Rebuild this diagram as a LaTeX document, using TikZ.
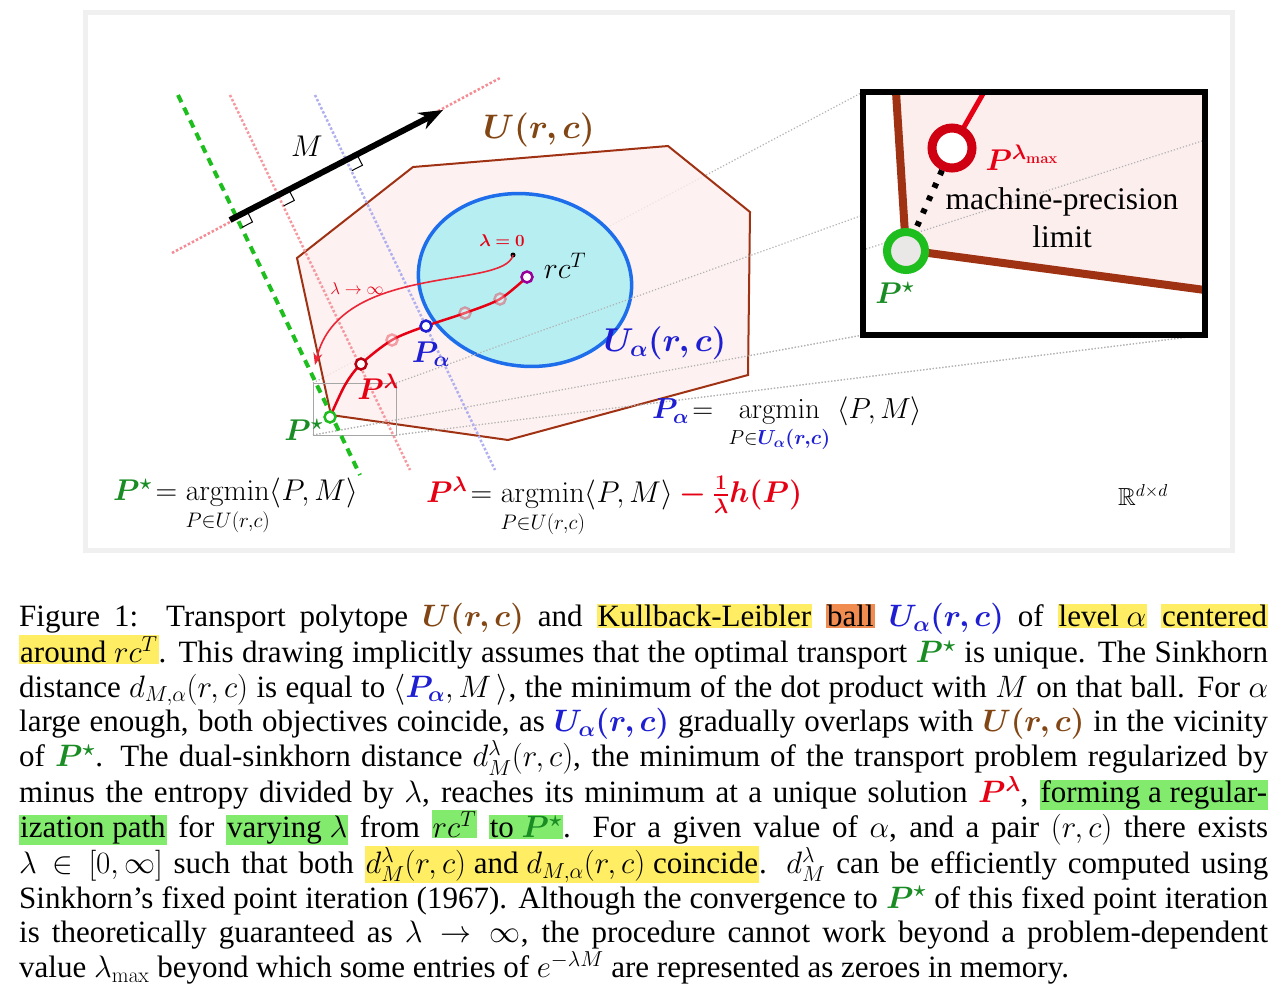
\RequirePackage{fix-cm}
\documentclass[tikz,border=0pt]{standalone}
\usepackage{graphicx}
\usepackage{amsmath,amssymb,bm}
\usepackage[no-math]{fontspec}
\setmainfont{Liberation Serif}
\usetikzlibrary{calc,arrows.meta}
\definecolor{ubrown}{RGB}{160,50,20}
\definecolor{lbrown}{RGB}{130,70,20}
\definecolor{pblue}{RGB}{30,30,210}
\definecolor{pgreen}{RGB}{25,140,35}
\definecolor{cgreen}{RGB}{30,190,30}
\definecolor{pred}{RGB}{230,0,20}
\definecolor{ppink}{RGB}{253,238,238}
\definecolor{cyanfill}{RGB}{182,238,242}
\definecolor{ellblue}{RGB}{30,110,235}
\definecolor{hly}{RGB}{255,238,100}
\definecolor{hlg}{RGB}{130,235,110}
\definecolor{hlo}{RGB}{240,140,80}
\newcommand\hy[1]{{\fboxsep=1pt\colorbox{hly}{#1}}}
\newcommand\hg[1]{{\fboxsep=1pt\colorbox{hlg}{#1}}}
\newcommand\ho[1]{{\fboxsep=1pt\colorbox{hlo}{#1}}}
\newcommand\amin{\mathop{\mathrm{argmin}}\limits}
\tikzset{
  lab/.style={inner sep=0pt},
  perpline/.style={dotted,line width=2.5pt},
  ring/.style={circle,draw,fill=white,inner sep=0pt,minimum size=11pt,line width=2.5pt},
  faded/.style={ring,draw=pred,opacity=0.35},
  guide/.style={gray!60,dotted,line width=1.2pt},
}
\begin{document}
\begin{tikzpicture}[x=1pt,y=-1pt]
\useasboundingbox (0,0) rectangle (1287,1005);
\fill[white] (0,0) rectangle (1287,1005);
\draw[gray!12,line width=5pt] (85,12) rectangle (1232,550);
% guides to inset
\draw[guide] (313,383) -- (863,92);
\draw[guide] (313,435) -- (863,335);
\draw[guide] (396,435) -- (1205,335);
% polytope
\filldraw[fill=ppink,fill opacity=0.8,draw=ubrown,line width=2pt]
 (297,258) -- (413,167) -- (668,146) -- (750,212) -- (748,375) -- (508,440) -- (331,415) -- cycle;
\draw[guide] (313,435) -- (863,335);
\draw[guide] (396,435) -- (1205,335);
% ellipse
\filldraw[fill=cyanfill,draw=ellblue,line width=3.5pt,rotate around={-8:(525,280)}] (525,280) ellipse [x radius=107,y radius=86];
\draw[guide] (396,383) -- (1205,92);
% small box
\draw[gray!70,line width=1pt] (313,383) rectangle (396,435);
% M line
\coordinate (Ma) at (172,253); \coordinate (Mb) at (500,78);
\draw[pred!45,dotted,line width=2.5pt] (Ma) -- (Mb);
\coordinate (ga) at (178,95); \coordinate (gb) at (360,475);
\coordinate (ra) at (230,95); \coordinate (rb) at (410,470);
\coordinate (ba) at (315,95); \coordinate (bb) at (495,470);
\draw[cgreen,dashed,dash pattern=on 8pt off 6pt,line width=4pt] (ga) -- (gb);
\draw[perpline,pred!40] (ra) -- (rb);
\draw[perpline,pblue!35] (ba) -- (bb);
\coordinate (Ms) at (230,220); \coordinate (Me) at (443,110);
\draw[line width=6pt,-{Stealth[length=24pt,width=18pt]}] (Ms) -- (Me);
\node[lab,font=\fontsize{30}{30}\selectfont] (Mlab) at (307,146) {$M$};
\foreach \a/\b in {ga/gb,ra/rb,ba/bb}{
  \coordinate (X) at (intersection of Ms--Me and \a--\b);
  \draw[line width=1pt] ($(X)+(10.7,-5.5)$) -- ++(5.5,10.7) -- ++(-10.7,5.5);
}
% lambda -> infinity curve
\coordinate (l0) at (513,255);
\coordinate (linf) at (315,365);
\fill (l0) circle (2.5pt);
\draw[pred!85,line width=1.6pt,-{Stealth[length=12pt,width=9pt]}] (l0) .. controls (505,290) and (340,262) .. (linf);
\node[lab,pred,font=\fontsize{17}{17}\selectfont] (lz) at (502,241) {$\bm{\lambda=0}$};
\node[lab,pred,font=\fontsize{17}{17}\selectfont] (li) at (357,289) {$\lambda\rightarrow\infty$};
% path
\draw[pred,line width=2.5pt] plot[smooth] coordinates {(330,417) (345,385) (361,364) (392,340) (426,326) (465,313) (500,299) (527,277)};
\node[faded] (f1) at (392,340) {};
\node[faded] (f2) at (465,313) {};
\node[faded] (f3) at (500,299) {};
\node[ring,draw=pred!80!black] (Pl) at (361,364) {};
\node[ring,draw=pblue] (Pa) at (426,326) {};
\node[ring,draw=violet!80!magenta] (rc) at (527,277) {};
\node[ring,draw=cgreen] (Ps) at (330,417) {};
% labels
\node[lab,font=\fontsize{30}{30}\selectfont] (rclab) at (565,266) {$rc^T$};
\node[lab,pblue,font=\fontsize{30}{30}\selectfont] (Palab) at (431,354) {$\bm{P_{\alpha}}$};
\node[lab,pred,font=\fontsize{30}{30}\selectfont] (Pllab) at (378,387) {$\bm{P^{\lambda}}$};
\node[lab,pgreen,font=\fontsize{30}{30}\selectfont] (Pslab) at (304,430) {$\bm{P^{\star}}$};
\node[lab,lbrown,font=\fontsize{34}{34}\selectfont] (Ulab) at (539,130) {$\bm{U(r,c)}$};
\node[lab,pblue,font=\fontsize{33}{33}\selectfont] (Ualab) at (665,343) {$\bm{U_{\alpha}(r,c)}$};
% formulas
\node[lab,anchor=north west,font=\fontsize{29}{29}\selectfont] (fa) at (652,397)
 {$\color{pblue}\bm{P_{\alpha}}\!\color{black}=\ \amin_{P\in \color{pblue}\bm{U_\alpha(r,c)}}\ \langle P,M\rangle$};
\node[lab,anchor=north west,font=\fontsize{30}{30}\selectfont] (fs) at (113,478)
 {$\color{pgreen}\bm{P^{\star}}\!\color{black}=\amin_{P\in U(r,c)}\langle P,M\rangle$};
\node[lab,anchor=north west,font=\fontsize{30}{30}\selectfont] (fl) at (426,476)
 {$\color{pred}\bm{P^{\lambda}}\!\color{black}=\amin_{P\in U(r,c)}\langle P,M\rangle\color{pred}\bm{-\tfrac{1}{\lambda}h(P)}$};
\node[lab,font=\fontsize{17}{17}\selectfont] (R) at (1143,495) {\scalebox{1.45}{$\mathbb{R}^{d\times d}$}};
% inset
\fill[white] (863,92) rectangle (1205,335);
\fill[ppink] (896,92) -- (1205,92) -- (1205,290) -- (906,250) -- cycle;
\draw[guide] (863,250) -- (1205,140);
\draw[ubrown,line width=8pt] (896,92) -- (906,250) -- (1205,290);
\coordinate (Pm) at (952,148);
\coordinate (Pt) at (984,92);
\draw[pred,line width=5pt] (Pt) -- (Pm);
\node[circle,draw=pred!90!black,fill=white,line width=9pt,minimum size=40pt,inner sep=0pt] (Pmax) at (Pm) {};
\node[circle,draw=cgreen,fill=ppink!60!gray!40,line width=8pt,minimum size=38pt,inner sep=0pt] (Pstar2) at (906,251) {};
\draw[line width=6pt,dash pattern=on 5pt off 9pt] (Pmax) -- (Pstar2);
\node[lab,pred,font=\fontsize{30}{30}\selectfont] (Pmlab) at (1022,158) {$\bm{P^{\lambda_{\mathrm{max}}}}$};
\node[lab,align=center,font=\fontsize{31.5}{38}\selectfont] (mp) at (1062,218) {machine-precision\\limit};
\node[lab,pgreen,font=\fontsize{30}{30}\selectfont] (Pslab2) at (895,293) {$\bm{P^{\star}}$};
\draw[line width=6pt] (863,92) rectangle (1205,335);
% caption
\node[lab,anchor=north west,text width=1249pt,align=justify,font=\fontsize{31}{34.8}\selectfont] (cap) at (19,603) {%
Figure 1:\ \ Transport polytope $\color{lbrown}\bm{U(r,c)}$ and \hy{Kullback-Leibler} \ho{ball} $\color{pblue}\bm{U_\alpha(r,c)}$ of \hy{level $\alpha$} \hy{centered}\linebreak
\hy{around $rc^T$}. This drawing implicitly assumes that the optimal transport $\color{pgreen}\bm{P^\star}$ is unique. The Sinkhorn\linebreak
distance $d_{M,\alpha}(r,c)$ is equal to $\langle \color{pblue}\bm{P_\alpha}\color{black}, M\,\rangle$, the minimum of the dot product with $M$ on that ball. For $\alpha$\linebreak
large enough, both objectives coincide, as $\color{pblue}\bm{U_\alpha(r,c)}$ gradually overlaps with $\color{lbrown}\bm{U(r,c)}$ in the vicinity\linebreak
of $\color{pgreen}\bm{P^\star}$. The dual-sinkhorn distance $d_M^\lambda(r,c)$, the minimum of the transport problem regularized by\linebreak
minus the entropy divided by $\lambda$, reaches its minimum at a unique solution $\color{pred}\bm{P^\lambda}$, \hg{forming a regular-}\linebreak
\hg{ization path} for \hg{varying $\lambda$} from \hg{$rc^T$} \hg{to $\color{pgreen}\bm{P^\star}$}. For a given value of $\alpha$, and a pair $(r,c)$ there exists\linebreak
$\lambda\in[0,\infty]$ such that both \hy{$d_M^\lambda(r,c)$ and $d_{M,\alpha}(r,c)$ coincide}. $d_M^\lambda$ can be efficiently computed using\linebreak
Sinkhorn's fixed point iteration (1967). Although the convergence to $\color{pgreen}\bm{P^\star}$ of this fixed point iteration\linebreak
is theoretically guaranteed as $\lambda\rightarrow\infty$, the procedure cannot work beyond a problem-dependent\linebreak
value $\lambda_{\max}$ beyond which some entries of $e^{-\lambda M}$ are represented as zeroes in memory.\par};
\end{tikzpicture}
\end{document}
